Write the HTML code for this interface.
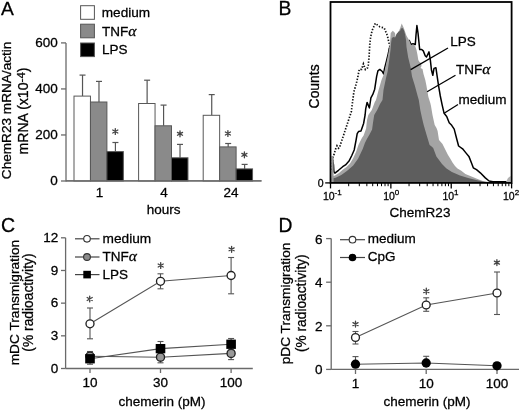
<!DOCTYPE html>
<html><head><meta charset="utf-8"><title>ChemR23 figure</title>
<style>
html,body{margin:0;padding:0;background:#fff;}
body{width:520px;height:412px;overflow:hidden;}
svg{display:block;}
text{font-family:"Liberation Sans", sans-serif;stroke:#000;stroke-width:0.28px;}
</style></head>
<body>
<svg width="520" height="412" viewBox="0 0 520 412">
<rect width="520" height="412" fill="#fff"/>
<text x="1.0" y="14.5" font-size="19.2" text-anchor="start" fill="#000" >A</text>
<rect x="80.6" y="5.7" width="13.8" height="13.6" fill="#fff" stroke="#555" stroke-width="1"/>
<rect x="80.6" y="24.2" width="13.8" height="13.6" fill="#8a8a8a" stroke="#555" stroke-width="1"/>
<rect x="80.6" y="43" width="13.8" height="13.6" fill="#000" stroke="#555" stroke-width="1"/>
<text x="101.8" y="17.4" font-size="13.6" text-anchor="start" fill="#000" >medium</text>
<text x="102" y="35.8" font-size="13.5" text-anchor="start" fill="#000" >TNF<tspan font-family="&quot;Liberation Serif&quot;, serif" font-style="italic" font-size="15.5">&#945;</tspan></text>
<text x="102" y="54.4" font-size="13.5" text-anchor="start" fill="#000" >LPS</text>
<line x1="66" y1="42.9" x2="66" y2="181.5" stroke="#6a6a6a" stroke-width="1.3" />
<line x1="61" y1="181.0" x2="66" y2="181.0" stroke="#6a6a6a" stroke-width="1.3" />
<text x="57.8" y="184.9" font-size="13.5" text-anchor="end" fill="#000" >0</text>
<line x1="61" y1="134.96666666666667" x2="66" y2="134.96666666666667" stroke="#6a6a6a" stroke-width="1.3" />
<text x="57.8" y="138.86666666666667" font-size="13.5" text-anchor="end" fill="#000" >200</text>
<line x1="61" y1="88.93333333333334" x2="66" y2="88.93333333333334" stroke="#6a6a6a" stroke-width="1.3" />
<text x="57.8" y="92.83333333333334" font-size="13.5" text-anchor="end" fill="#000" >400</text>
<line x1="61" y1="42.900000000000006" x2="66" y2="42.900000000000006" stroke="#6a6a6a" stroke-width="1.3" />
<text x="57.8" y="46.800000000000004" font-size="13.5" text-anchor="end" fill="#000" >600</text>
<line x1="66" y1="180.9" x2="261.5" y2="180.9" stroke="#6a6a6a" stroke-width="1.4" />
<line x1="82.52499999999999" y1="75.1" x2="82.52499999999999" y2="96.1" stroke="#555" stroke-width="1.2" />
<line x1="79.52499999999999" y1="75.1" x2="85.52499999999999" y2="75.1" stroke="#555" stroke-width="1.2" />
<line x1="98.975" y1="81.4" x2="98.975" y2="102.0" stroke="#555" stroke-width="1.2" />
<line x1="95.975" y1="81.4" x2="101.975" y2="81.4" stroke="#555" stroke-width="1.2" />
<line x1="115.425" y1="142.5" x2="115.425" y2="151.6" stroke="#555" stroke-width="1.2" />
<line x1="112.425" y1="142.5" x2="118.425" y2="142.5" stroke="#555" stroke-width="1.2" />
<rect x="74.00" y="96.1" width="16.45" height="84.80" fill="#fff" stroke="#585858" stroke-width="1"/>
<rect x="90.45" y="102.0" width="16.45" height="78.90" fill="#8a8a8a" stroke="#585858" stroke-width="1"/>
<rect x="106.90" y="151.6" width="16.45" height="29.30" fill="#000" stroke="#585858" stroke-width="1"/>
<line x1="147.125" y1="80.2" x2="147.125" y2="103.5" stroke="#555" stroke-width="1.2" />
<line x1="144.125" y1="80.2" x2="150.125" y2="80.2" stroke="#555" stroke-width="1.2" />
<line x1="163.575" y1="105.1" x2="163.575" y2="125.8" stroke="#555" stroke-width="1.2" />
<line x1="160.575" y1="105.1" x2="166.575" y2="105.1" stroke="#555" stroke-width="1.2" />
<line x1="180.025" y1="144.4" x2="180.025" y2="157.8" stroke="#555" stroke-width="1.2" />
<line x1="177.025" y1="144.4" x2="183.025" y2="144.4" stroke="#555" stroke-width="1.2" />
<rect x="138.60" y="103.5" width="16.45" height="77.40" fill="#fff" stroke="#585858" stroke-width="1"/>
<rect x="155.05" y="125.8" width="16.45" height="55.10" fill="#8a8a8a" stroke="#585858" stroke-width="1"/>
<rect x="171.50" y="157.8" width="16.45" height="23.10" fill="#000" stroke="#585858" stroke-width="1"/>
<line x1="211.725" y1="94.6" x2="211.725" y2="115.3" stroke="#555" stroke-width="1.2" />
<line x1="208.725" y1="94.6" x2="214.725" y2="94.6" stroke="#555" stroke-width="1.2" />
<line x1="228.17499999999998" y1="143.5" x2="228.17499999999998" y2="146.9" stroke="#555" stroke-width="1.2" />
<line x1="225.17499999999998" y1="143.5" x2="231.17499999999998" y2="143.5" stroke="#555" stroke-width="1.2" />
<line x1="244.625" y1="164.4" x2="244.625" y2="168.9" stroke="#555" stroke-width="1.2" />
<line x1="241.625" y1="164.4" x2="247.625" y2="164.4" stroke="#555" stroke-width="1.2" />
<rect x="203.20" y="115.3" width="16.45" height="65.60" fill="#fff" stroke="#585858" stroke-width="1"/>
<rect x="219.65" y="146.9" width="16.45" height="34.00" fill="#8a8a8a" stroke="#585858" stroke-width="1"/>
<rect x="236.10" y="168.9" width="16.45" height="12.00" fill="#000" stroke="#585858" stroke-width="1"/>
<line x1="66" y1="180.9" x2="261.5" y2="180.9" stroke="#6a6a6a" stroke-width="1.4" />
<path d="M115.30,134.45L115.30,128.55M112.75,132.97L117.85,130.03M117.85,132.97L112.75,130.03" stroke="#444" stroke-width="1.3" stroke-linecap="round" fill="none"/>
<path d="M180.00,136.75L180.00,130.85M177.45,135.28L182.55,132.33M182.55,135.28L177.45,132.33" stroke="#444" stroke-width="1.3" stroke-linecap="round" fill="none"/>
<path d="M227.90,136.45L227.90,130.55M225.35,134.97L230.45,132.03M230.45,134.97L225.35,132.03" stroke="#444" stroke-width="1.3" stroke-linecap="round" fill="none"/>
<path d="M244.40,157.75L244.40,151.85M241.85,156.28L246.95,153.33M246.95,156.28L241.85,153.33" stroke="#444" stroke-width="1.3" stroke-linecap="round" fill="none"/>
<text x="99.6" y="197.4" font-size="13.5" text-anchor="middle" fill="#000" >1</text>
<text x="163.9" y="197.4" font-size="13.5" text-anchor="middle" fill="#000" >4</text>
<text x="231.0" y="197.4" font-size="13.5" text-anchor="middle" fill="#000" >24</text>
<text x="163.6" y="213.6" font-size="13.5" text-anchor="middle" fill="#000" >hours</text>
<text transform="translate(11.0,110.4) rotate(-90)" font-size="13.6" text-anchor="middle" fill="#000">ChemR23 mRNA/actin</text>
<text transform="translate(27.5,111.0) rotate(-90)" font-size="14.1" text-anchor="middle" fill="#000">mRNA (x10<tspan font-size="11.5" dy="-3">-4</tspan><tspan dy="3">)</tspan></text>
<text x="278.6" y="14.8" font-size="19.3" text-anchor="start" fill="#000" >B</text>
<text transform="translate(319.3,86.4) rotate(-90)" font-size="13.9" text-anchor="middle" fill="#000">Counts</text>
<path d="M332.6,160 L333.5,165 L333.9,171.7 L334.9,173.1 L338.5,170.3 L342.7,166.7 L345.5,164.9 L349,161.1 L351.8,155.5 L354.2,150 L356,140.5 L357.2,133.7 L358.5,131.6 L361,131.1 L363.6,123.5 L365.1,115 L365.7,108.9 L367.1,102.4 L369.4,108 L370.9,97.8 L372.8,94.4 L374.7,89.2 L376.6,76.6 L377.9,70.9 L379.8,69.4 L382.3,71.5 L383.6,74 L384.4,69.3 L386.5,61 L388.5,52.8 L389.3,48 L392,56 L404,54 L409.3,40.5 L411,44.5 L413,43.8 L415.3,44.5 L416,35 L416.9,25.6 L418,33 L419.7,49.6 L421.7,49.5 L423.3,50.9 L425.2,55.7 L426.5,57 L429,51.9 L430.2,58.9 L431.5,70.3 L432.8,75.3 L434,68.4 L435.9,67.7 L437.2,76.6 L438.5,85.4 L440.3,96 L442.2,105.1 L444.1,113.3 L446.7,116.5 L449.2,122.8 L451.7,125.3 L454.2,129.1 L456.8,139.2 L458.6,146 L462.6,148.8 L465.7,152.6 L468.9,156.4 L471.4,162.7 L473.3,167.8 L476.5,169.7 L480.3,172.8 L485.3,177.9 L489.1,181 L492.9,181.7 L510,181.7" fill="none" stroke="#000" stroke-width="1.5" stroke-linejoin="round"/>
<path d="M332.2,170 L332.8,158.3 L333.5,156.2 L335.6,149.1 L337,145.8 L338.6,148.2 L339.8,147.2 L340.2,145.3 L343.1,136.6 L346,127.8 L348.9,119.1 L351.3,111.8 L352.6,101.6 L353.9,91.7 L356.4,83.3 L358,76 L359.3,69.3 L361.6,69.3 L363.4,63.8 L365.4,69.6 L367.5,67.9 L368.3,65.2 L368.5,62.3 L369,57.6 L369.7,45 L370.6,37 L372.2,30.3 L375.3,23.4 L379.8,26.8 L384.2,28 L387.3,35.4 L389.9,46.7 L391,58" fill="none" stroke="#111" stroke-width="1.7" stroke-dasharray="1.4,1.6"/>
<path d="M331.6,182 L331.6,176.5 L335,175.6 L339,173 L343,169.6 L346.5,167 L350,163.5 L353,158.5 L356,152 L358.5,144.7 L361.9,137.9 L363.6,135.4 L366.1,128.6 L367,120 L368.3,115 L371.8,110 L374.8,102 L376,100 L378.6,90 L381.5,80 L383.5,75 L385,69 L386.5,62 L388,55 L389.5,47 L390.3,38 L390.7,33 L392.8,30.8 L395,33 L395.5,37 L396.5,35 L398.7,31.5 L400.2,28 L401.7,23.5 L403.8,28 L406.4,35.5 L407.8,38 L409.5,40.8 L411,45 L413,44.6 L415,45.5 L416.5,50 L417.5,55 L418.3,60 L419.5,62 L421,63 L421.5,66 L420.5,68 L422.5,69 L423.5,74 L425.3,80 L426.5,86 L427.5,92 L428.4,97 L430.3,103 L431,106 L432.5,115 L434.7,125 L436.5,128 L437.6,131 L439,140 L442.5,144 L445.5,150 L448,155 L450.5,159 L452.5,162.5 L455,166 L457.5,168.6 L461.3,170.7 L465.4,174 L472.1,176.7 L478.8,179.4 L484.2,181.4 L487,182.2 Z" fill="#a4a4a4" stroke="none"/>
<path d="M331.6,182 L331.6,178.5 L335.6,177.8 L341.3,175 L346.9,171 L353.2,165.5 L358.2,158.5 L362.7,149 L364.9,143 L367,138.8 L369.5,134.5 L372.1,129.4 L372.9,123.5 L374.2,115 L377.2,110 L380,104 L382.5,100 L383.5,90 L386,78 L387.5,72 L388.5,65 L389.5,58 L390.5,50 L391.2,42 L391.8,38 L393.5,37 L395.2,37.5 L396.5,34 L398.7,31.5 L400,31 L401,28.5 L402.5,28 L403.8,30 L405,34 L406,40 L406.5,47 L408.2,57.6 L410.7,67.7 L412,76.6 L414.8,85.4 L417.5,95.5 L418.8,100 L420.3,110 L422,118 L423.7,125 L426.6,135 L429.6,145 L431,146 L433.2,148 L436.4,156.5 L442,164 L446.5,168.6 L451.9,172 L460,175.4 L468.1,178.1 L476.1,180.1 L482.9,181.4 L492,182.2 Z" fill="#5e5e5e" stroke="none"/>
<path d="M506,182 L508,178 L510.6,176 L510.6,182 Z" fill="#b0b0b0"/>
<rect x="331.4" y="156" width="2.2" height="26" fill="#999"/>
<line x1="410.7" y1="69.6" x2="448.0" y2="48.0" stroke="#000" stroke-width="1.3" />
<line x1="427.1" y1="91.7" x2="455.5" y2="75.2" stroke="#000" stroke-width="1.3" />
<line x1="444.1" y1="113.3" x2="458.0" y2="104.5" stroke="#000" stroke-width="1.3" />
<text x="450.2" y="46.2" font-size="13.5" text-anchor="start" fill="#000" >LPS</text>
<text x="456.0" y="73.8" font-size="13.5" text-anchor="start" fill="#000" >TNF<tspan font-family="&quot;Liberation Serif&quot;, serif" font-style="italic" font-size="15.5">&#945;</tspan></text>
<text x="458.6" y="103.6" font-size="13.5" text-anchor="start" fill="#000" >medium</text>
<rect x="330.5" y="2.0" width="181.10000000000002" height="180.9" fill="none" stroke="#000" stroke-width="1.8"/>
<line x1="325.2" y1="182.9" x2="330.5" y2="182.9" stroke="#000" stroke-width="1.3" />
<text x="323.6" y="186.6" font-size="10.5" text-anchor="end" fill="#000" >0</text>
<line x1="330.5" y1="182.9" x2="330.5" y2="188.4" stroke="#000" stroke-width="1.3" />
<line x1="348.67217740491566" y1="182.9" x2="348.67217740491566" y2="186.2" stroke="#000" stroke-width="1.0" />
<line x1="359.30221974324365" y1="182.9" x2="359.30221974324365" y2="186.2" stroke="#000" stroke-width="1.0" />
<line x1="366.8443548098313" y1="182.9" x2="366.8443548098313" y2="186.2" stroke="#000" stroke-width="1.0" />
<line x1="372.694489261751" y1="182.9" x2="372.694489261751" y2="186.2" stroke="#000" stroke-width="1.0" />
<line x1="377.4743971481593" y1="182.9" x2="377.4743971481593" y2="186.2" stroke="#000" stroke-width="1.0" />
<line x1="381.515751682194" y1="182.9" x2="381.515751682194" y2="186.2" stroke="#000" stroke-width="1.0" />
<line x1="385.016532214747" y1="182.9" x2="385.016532214747" y2="186.2" stroke="#000" stroke-width="1.0" />
<line x1="388.10443948648725" y1="182.9" x2="388.10443948648725" y2="186.2" stroke="#000" stroke-width="1.0" />
<line x1="390.8666666666667" y1="182.9" x2="390.8666666666667" y2="188.4" stroke="#000" stroke-width="1.3" />
<line x1="409.03884407158233" y1="182.9" x2="409.03884407158233" y2="186.2" stroke="#000" stroke-width="1.0" />
<line x1="419.66888640991033" y1="182.9" x2="419.66888640991033" y2="186.2" stroke="#000" stroke-width="1.0" />
<line x1="427.211021476498" y1="182.9" x2="427.211021476498" y2="186.2" stroke="#000" stroke-width="1.0" />
<line x1="433.0611559284177" y1="182.9" x2="433.0611559284177" y2="186.2" stroke="#000" stroke-width="1.0" />
<line x1="437.841063814826" y1="182.9" x2="437.841063814826" y2="186.2" stroke="#000" stroke-width="1.0" />
<line x1="441.88241834886065" y1="182.9" x2="441.88241834886065" y2="186.2" stroke="#000" stroke-width="1.0" />
<line x1="445.38319888141365" y1="182.9" x2="445.38319888141365" y2="186.2" stroke="#000" stroke-width="1.0" />
<line x1="448.4711061531539" y1="182.9" x2="448.4711061531539" y2="186.2" stroke="#000" stroke-width="1.0" />
<line x1="451.23333333333335" y1="182.9" x2="451.23333333333335" y2="188.4" stroke="#000" stroke-width="1.3" />
<line x1="469.405510738249" y1="182.9" x2="469.405510738249" y2="186.2" stroke="#000" stroke-width="1.0" />
<line x1="480.035553076577" y1="182.9" x2="480.035553076577" y2="186.2" stroke="#000" stroke-width="1.0" />
<line x1="487.57768814316466" y1="182.9" x2="487.57768814316466" y2="186.2" stroke="#000" stroke-width="1.0" />
<line x1="493.42782259508436" y1="182.9" x2="493.42782259508436" y2="186.2" stroke="#000" stroke-width="1.0" />
<line x1="498.20773048149266" y1="182.9" x2="498.20773048149266" y2="186.2" stroke="#000" stroke-width="1.0" />
<line x1="502.2490850155273" y1="182.9" x2="502.2490850155273" y2="186.2" stroke="#000" stroke-width="1.0" />
<line x1="505.7498655480803" y1="182.9" x2="505.7498655480803" y2="186.2" stroke="#000" stroke-width="1.0" />
<line x1="508.8377728198206" y1="182.9" x2="508.8377728198206" y2="186.2" stroke="#000" stroke-width="1.0" />
<line x1="511.6" y1="182.9" x2="511.6" y2="188.4" stroke="#000" stroke-width="1.3" />
<text x="332.3" y="199.6" font-size="10.5" text-anchor="middle">10<tspan font-size="8" dy="-4.6">-1</tspan></text>
<text x="391.2" y="199.6" font-size="10.5" text-anchor="middle">10<tspan font-size="8" dy="-4.6">0</tspan></text>
<text x="450.5" y="199.6" font-size="10.5" text-anchor="middle">10<tspan font-size="8" dy="-4.6">1</tspan></text>
<text x="511.1" y="199.6" font-size="10.5" text-anchor="middle">10<tspan font-size="8" dy="-4.6">2</tspan></text>
<text x="420.0" y="217.0" font-size="13.5" text-anchor="middle" fill="#000" >ChemR23</text>
<text x="1.0" y="231.6" font-size="19.5" text-anchor="start" fill="#000" >C</text>
<line x1="65.6" y1="237.8" x2="65.6" y2="368.5" stroke="#6a6a6a" stroke-width="1.3" />
<line x1="61" y1="368.5" x2="65.6" y2="368.5" stroke="#6a6a6a" stroke-width="1.3" />
<text x="58.2" y="372.7" font-size="13.5" text-anchor="end" fill="#000" >0</text>
<line x1="61" y1="335.825" x2="65.6" y2="335.825" stroke="#6a6a6a" stroke-width="1.3" />
<text x="58.2" y="340.025" font-size="13.5" text-anchor="end" fill="#000" >3</text>
<line x1="61" y1="303.15" x2="65.6" y2="303.15" stroke="#6a6a6a" stroke-width="1.3" />
<text x="58.2" y="307.34999999999997" font-size="13.5" text-anchor="end" fill="#000" >6</text>
<line x1="61" y1="270.475" x2="65.6" y2="270.475" stroke="#6a6a6a" stroke-width="1.3" />
<text x="58.2" y="274.675" font-size="13.5" text-anchor="end" fill="#000" >9</text>
<line x1="61" y1="237.8" x2="65.6" y2="237.8" stroke="#6a6a6a" stroke-width="1.3" />
<text x="58.2" y="242.0" font-size="13.5" text-anchor="end" fill="#000" >12</text>
<line x1="65.6" y1="368.5" x2="252.8" y2="368.5" stroke="#6a6a6a" stroke-width="1.3" />
<line x1="90.0" y1="368.5" x2="90.0" y2="373.0" stroke="#6a6a6a" stroke-width="1.3" />
<text x="90.0" y="387.2" font-size="13.5" text-anchor="middle" fill="#000" >10</text>
<line x1="160.5" y1="368.5" x2="160.5" y2="373.0" stroke="#6a6a6a" stroke-width="1.3" />
<text x="160.5" y="387.2" font-size="13.5" text-anchor="middle" fill="#000" >30</text>
<line x1="231.1" y1="368.5" x2="231.1" y2="373.0" stroke="#6a6a6a" stroke-width="1.3" />
<text x="231.1" y="387.2" font-size="13.5" text-anchor="middle" fill="#000" >100</text>
<text x="162.0" y="405.6" font-size="13.5" text-anchor="middle" fill="#000" >chemerin (pM)</text>
<text transform="translate(18.8,302.6) rotate(-90)" font-size="13.7" text-anchor="middle" fill="#000">mDC Transmigration</text>
<text transform="translate(33.4,302.6) rotate(-90)" font-size="13.8" text-anchor="middle" fill="#000">(% radioactivity)</text>
<line x1="75" y1="238.8" x2="99.5" y2="238.8" stroke="#444" stroke-width="1.2" />
<circle cx="87" cy="238.8" r="3.3" fill="#fff" stroke="#333" stroke-width="1.1"/>
<line x1="75" y1="257.0" x2="99.5" y2="257.0" stroke="#444" stroke-width="1.2" />
<circle cx="87" cy="257.0" r="3.4" fill="#8c8c8c" stroke="#333" stroke-width="1.1"/>
<line x1="75" y1="274.6" x2="99.5" y2="274.6" stroke="#444" stroke-width="1.2" />
<rect x="83.3" y="270.8" width="7.6" height="7.6" fill="#000"/>
<text x="102.6" y="243.0" font-size="13.7" text-anchor="start" fill="#000" >medium</text>
<text x="102.6" y="260.7" font-size="13.5" text-anchor="start" fill="#000" >TNF<tspan font-family="&quot;Liberation Serif&quot;, serif" font-style="italic" font-size="15.5">&#945;</tspan></text>
<text x="102.6" y="278.6" font-size="13.5" text-anchor="start" fill="#000" >LPS</text>
<polyline points="90.0,356.2 160.5,357.2 231.1,353.4" fill="none" stroke="#555" stroke-width="1.1"/>
<polyline points="90.0,358.7 160.5,348.6 231.1,344.2" fill="none" stroke="#555" stroke-width="1.1"/>
<polyline points="90.0,323.8 160.5,281.3 231.1,275.5" fill="none" stroke="#555" stroke-width="1.1"/>
<line x1="90.0" y1="351.5" x2="90.0" y2="360.5" stroke="#555" stroke-width="1.1" />
<line x1="87.0" y1="351.5" x2="93.0" y2="351.5" stroke="#555" stroke-width="1.1" />
<line x1="87.0" y1="360.5" x2="93.0" y2="360.5" stroke="#555" stroke-width="1.1" />
<line x1="160.5" y1="351.8" x2="160.5" y2="362.8" stroke="#555" stroke-width="1.1" />
<line x1="157.5" y1="351.8" x2="163.5" y2="351.8" stroke="#555" stroke-width="1.1" />
<line x1="157.5" y1="362.8" x2="163.5" y2="362.8" stroke="#555" stroke-width="1.1" />
<line x1="231.1" y1="347.2" x2="231.1" y2="359.6" stroke="#555" stroke-width="1.1" />
<line x1="228.1" y1="347.2" x2="234.1" y2="347.2" stroke="#555" stroke-width="1.1" />
<line x1="228.1" y1="359.6" x2="234.1" y2="359.6" stroke="#555" stroke-width="1.1" />
<line x1="90.0" y1="353.0" x2="90.0" y2="364.2" stroke="#555" stroke-width="1.1" />
<line x1="87.0" y1="353.0" x2="93.0" y2="353.0" stroke="#555" stroke-width="1.1" />
<line x1="87.0" y1="364.2" x2="93.0" y2="364.2" stroke="#555" stroke-width="1.1" />
<line x1="160.5" y1="341.5" x2="160.5" y2="355.6" stroke="#555" stroke-width="1.1" />
<line x1="157.5" y1="341.5" x2="163.5" y2="341.5" stroke="#555" stroke-width="1.1" />
<line x1="157.5" y1="355.6" x2="163.5" y2="355.6" stroke="#555" stroke-width="1.1" />
<line x1="231.1" y1="338.5" x2="231.1" y2="350.0" stroke="#555" stroke-width="1.1" />
<line x1="228.1" y1="338.5" x2="234.1" y2="338.5" stroke="#555" stroke-width="1.1" />
<line x1="228.1" y1="350.0" x2="234.1" y2="350.0" stroke="#555" stroke-width="1.1" />
<line x1="90.0" y1="308.0" x2="90.0" y2="338.8" stroke="#555" stroke-width="1.1" />
<line x1="87.0" y1="308.0" x2="93.0" y2="308.0" stroke="#555" stroke-width="1.1" />
<line x1="87.0" y1="338.8" x2="93.0" y2="338.8" stroke="#555" stroke-width="1.1" />
<line x1="160.5" y1="273.8" x2="160.5" y2="288.8" stroke="#555" stroke-width="1.1" />
<line x1="157.5" y1="273.8" x2="163.5" y2="273.8" stroke="#555" stroke-width="1.1" />
<line x1="157.5" y1="288.8" x2="163.5" y2="288.8" stroke="#555" stroke-width="1.1" />
<line x1="231.1" y1="257.5" x2="231.1" y2="293.8" stroke="#555" stroke-width="1.1" />
<line x1="228.1" y1="257.5" x2="234.1" y2="257.5" stroke="#555" stroke-width="1.1" />
<line x1="228.1" y1="293.8" x2="234.1" y2="293.8" stroke="#555" stroke-width="1.1" />
<circle cx="90.0" cy="356.2" r="4.05" fill="#999" stroke="#222" stroke-width="1.35"/>
<circle cx="160.5" cy="357.2" r="4.05" fill="#999" stroke="#222" stroke-width="1.35"/>
<circle cx="231.1" cy="353.4" r="4.05" fill="#999" stroke="#222" stroke-width="1.35"/>
<rect x="85.2" y="354.09999999999997" width="9.6" height="9.3" fill="#000"/>
<rect x="155.7" y="344.0" width="9.6" height="9.3" fill="#000"/>
<rect x="226.29999999999998" y="339.59999999999997" width="9.6" height="9.3" fill="#000"/>
<circle cx="90.0" cy="323.8" r="4.0" fill="#fff" stroke="#222" stroke-width="1.35"/>
<circle cx="160.5" cy="281.3" r="4.0" fill="#fff" stroke="#222" stroke-width="1.35"/>
<circle cx="231.1" cy="275.5" r="4.0" fill="#fff" stroke="#222" stroke-width="1.35"/>
<path d="M89.70,301.95L89.70,296.05M87.15,300.48L92.25,297.52M92.25,300.48L87.15,297.52" stroke="#444" stroke-width="1.3" stroke-linecap="round" fill="none"/>
<path d="M160.70,268.45L160.70,262.55M158.15,266.98L163.25,264.02M163.25,266.98L158.15,264.02" stroke="#444" stroke-width="1.3" stroke-linecap="round" fill="none"/>
<path d="M231.60,252.25L231.60,246.35M229.05,250.78L234.15,247.83M234.15,250.78L229.05,247.83" stroke="#444" stroke-width="1.3" stroke-linecap="round" fill="none"/>
<text x="278.4" y="231.8" font-size="19.3" text-anchor="start" fill="#000" >D</text>
<line x1="331.2" y1="238.6" x2="331.2" y2="369.4" stroke="#6a6a6a" stroke-width="1.3" />
<line x1="326.1" y1="369.4" x2="331.2" y2="369.4" stroke="#6a6a6a" stroke-width="1.3" />
<text x="322.6" y="374.29999999999995" font-size="13.5" text-anchor="end" fill="#000" >0</text>
<line x1="326.1" y1="325.79999999999995" x2="331.2" y2="325.79999999999995" stroke="#6a6a6a" stroke-width="1.3" />
<text x="322.6" y="330.69999999999993" font-size="13.5" text-anchor="end" fill="#000" >2</text>
<line x1="326.1" y1="282.2" x2="331.2" y2="282.2" stroke="#6a6a6a" stroke-width="1.3" />
<text x="322.6" y="287.09999999999997" font-size="13.5" text-anchor="end" fill="#000" >4</text>
<line x1="326.1" y1="238.6" x2="331.2" y2="238.6" stroke="#6a6a6a" stroke-width="1.3" />
<text x="322.6" y="243.5" font-size="13.5" text-anchor="end" fill="#000" >6</text>
<line x1="331.2" y1="369.4" x2="519" y2="369.4" stroke="#6a6a6a" stroke-width="1.3" />
<line x1="355.5" y1="369.4" x2="355.5" y2="374.0" stroke="#6a6a6a" stroke-width="1.3" />
<text x="355.5" y="388.2" font-size="13.5" text-anchor="middle" fill="#000" >1</text>
<line x1="426.2" y1="369.4" x2="426.2" y2="374.0" stroke="#6a6a6a" stroke-width="1.3" />
<text x="426.2" y="388.2" font-size="13.5" text-anchor="middle" fill="#000" >10</text>
<line x1="497.0" y1="369.4" x2="497.0" y2="374.0" stroke="#6a6a6a" stroke-width="1.3" />
<text x="497.0" y="388.2" font-size="13.5" text-anchor="middle" fill="#000" >100</text>
<text x="427.0" y="406.0" font-size="13.5" text-anchor="middle" fill="#000" >chemerin (pM)</text>
<text transform="translate(289.7,303.5) rotate(-90)" font-size="13.7" text-anchor="middle" fill="#000">pDC Transmigration</text>
<text transform="translate(306.3,303.2) rotate(-90)" font-size="13.75" text-anchor="middle" fill="#000">(% radioactivity)</text>
<line x1="340" y1="239.7" x2="365" y2="239.7" stroke="#444" stroke-width="1.2" />
<circle cx="352.5" cy="239.7" r="3.3" fill="#fff" stroke="#333" stroke-width="1.1"/>
<line x1="340" y1="257.5" x2="365" y2="257.5" stroke="#444" stroke-width="1.2" />
<circle cx="352.5" cy="257.5" r="3.8" fill="#000"/>
<text x="367.8" y="242.7" font-size="13.5" text-anchor="start" fill="#000" >medium</text>
<text x="367.8" y="261.3" font-size="13.5" text-anchor="start" fill="#000" >CpG</text>
<polyline points="355.5,364.2 426.2,363.0 497.0,365.8" fill="none" stroke="#555" stroke-width="1.1"/>
<polyline points="355.5,337.5 426.2,305.0 497.0,293.0" fill="none" stroke="#555" stroke-width="1.1"/>
<line x1="355.5" y1="356.6" x2="355.5" y2="364.2" stroke="#555" stroke-width="1.1" />
<line x1="352.5" y1="356.6" x2="358.5" y2="356.6" stroke="#555" stroke-width="1.1" />
<line x1="352.5" y1="364.2" x2="358.5" y2="364.2" stroke="#555" stroke-width="1.1" />
<line x1="426.2" y1="356.3" x2="426.2" y2="363.0" stroke="#555" stroke-width="1.1" />
<line x1="423.2" y1="356.3" x2="429.2" y2="356.3" stroke="#555" stroke-width="1.1" />
<line x1="423.2" y1="363.0" x2="429.2" y2="363.0" stroke="#555" stroke-width="1.1" />
<line x1="497.0" y1="363.0" x2="497.0" y2="365.8" stroke="#555" stroke-width="1.1" />
<line x1="494.0" y1="363.0" x2="500.0" y2="363.0" stroke="#555" stroke-width="1.1" />
<line x1="494.0" y1="365.8" x2="500.0" y2="365.8" stroke="#555" stroke-width="1.1" />
<line x1="355.5" y1="331.5" x2="355.5" y2="344.0" stroke="#555" stroke-width="1.1" />
<line x1="352.5" y1="331.5" x2="358.5" y2="331.5" stroke="#555" stroke-width="1.1" />
<line x1="352.5" y1="344.0" x2="358.5" y2="344.0" stroke="#555" stroke-width="1.1" />
<line x1="426.2" y1="297.8" x2="426.2" y2="311.3" stroke="#555" stroke-width="1.1" />
<line x1="423.2" y1="297.8" x2="429.2" y2="297.8" stroke="#555" stroke-width="1.1" />
<line x1="423.2" y1="311.3" x2="429.2" y2="311.3" stroke="#555" stroke-width="1.1" />
<line x1="497.0" y1="272.0" x2="497.0" y2="314.5" stroke="#555" stroke-width="1.1" />
<line x1="494.0" y1="272.0" x2="500.0" y2="272.0" stroke="#555" stroke-width="1.1" />
<line x1="494.0" y1="314.5" x2="500.0" y2="314.5" stroke="#555" stroke-width="1.1" />
<circle cx="355.5" cy="364.2" r="4.65" fill="#000"/>
<circle cx="426.2" cy="363.0" r="4.65" fill="#000"/>
<circle cx="497.0" cy="365.8" r="4.65" fill="#000"/>
<circle cx="355.5" cy="337.5" r="3.95" fill="#fff" stroke="#222" stroke-width="1.35"/>
<circle cx="426.2" cy="305.0" r="3.95" fill="#fff" stroke="#222" stroke-width="1.35"/>
<circle cx="497.0" cy="293.0" r="3.95" fill="#fff" stroke="#222" stroke-width="1.35"/>
<path d="M355.50,327.05L355.50,321.15M352.95,325.58L358.05,322.62M358.05,325.58L352.95,322.62" stroke="#444" stroke-width="1.3" stroke-linecap="round" fill="none"/>
<path d="M426.30,294.15L426.30,288.25M423.75,292.68L428.85,289.72M428.85,292.68L423.75,289.72" stroke="#444" stroke-width="1.3" stroke-linecap="round" fill="none"/>
<path d="M496.90,265.55L496.90,259.65M494.35,264.08L499.45,261.12M499.45,264.08L494.35,261.12" stroke="#444" stroke-width="1.3" stroke-linecap="round" fill="none"/>
</svg>
</body></html>
